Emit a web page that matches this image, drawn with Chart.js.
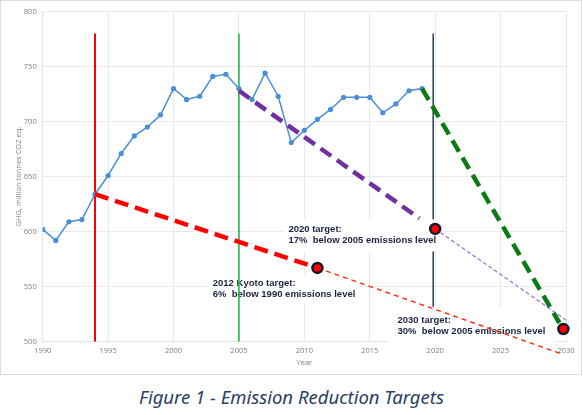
<!DOCTYPE html>
<html>
<head>
<meta charset="utf-8">
<script src="https://cdn.jsdelivr.net/npm/chart.js@4.4.1/dist/chart.umd.min.js"></script>
<style>
  body { margin: 0; background: #fff; width: 583px; height: 415px; overflow: hidden; }
  #frame { position: absolute; left: 0; top: 0; width: 580px; height: 373px; border: 1px solid #dcdcdc; }
  #caption { position: absolute; left: 0; top: 384px; width: 583px; text-align: center;
             font-family: "Noto Sans", sans-serif; font-style: italic; font-size: 18.5px; color: #2a3d62; }
</style>
</head>
<body>
<div id="frame"><canvas id="ghg-chart" width="580" height="373"></canvas></div>
<div id="caption">Figure 1 - Emission Reduction Targets</div>
<script>
// emissions, million tonnes CO2 eq.
var years = [1990, 1991, 1992, 1993, 1994, 1995, 1996, 1997, 1998, 1999,
             2000, 2001, 2002, 2003, 2004, 2005, 2006, 2007, 2008, 2009,
             2010, 2011, 2012, 2013, 2014, 2015, 2016, 2017, 2018, 2019];
var ghg = [602, 592, 609, 611, 634, 651, 671, 687, 695, 706,
           730, 720, 723, 741, 743, 730, 720, 744, 723, 681,
           692, 702, 711, 722, 722, 722, 708, 716, 728, 730];

// target paths
var kyotoYears = [1994, 2011];
var kyotoPath = [634, 567];
var kyotoTrendYears = [2011, 2030.6];
var kyotoTrend = [567, 485];
var target2020Years = [2005, 2018.8];
var target2020Path = [728, 612];
var target2020TrendYears = [2020, 2030.2];
var target2020Trend = [602.5, 518];
var target2030Years = [2019, 2029.5];
var target2030Path = [730, 517];

// target markers
var targetYears = [2011, 2020, 2029.8];
var targetValues = [567, 602.5, 511.5];

// reference years (vertical lines)
var refYears = [1994, 2005, 2019.85];
var refTop = [780, 780, 780];
var refBottom = [500, 500, 530];

var yTicks = [500, 550, 600, 650, 700, 750, 800];
var xTicks = [1990, 1995, 2000, 2005, 2010, 2015, 2020, 2025, 2030];

var NAVY_INDEX = 9;

var notes = [
	{ lines: ['2012 Kyoto target:', '6%  below 1990 emissions level'], x: 2003.0, y: 553, pad: [5, 9, 5, 8], front: false },
	{ lines: ['2020 target:', '17%  below 2005 emissions level'], x: 2008.78, y: 602, pad: [5, 10, 6, 11], front: true },
	{ lines: ['2030 target:', '30%  below 2005 emissions level'], x: 2017.12, y: 519, pad: [10, 14, 9, 12], front: true }
];

function pts(xs, ys) {
	var out = [];
	for (var i = 0; i < xs.length; i++) {
		out.push({ x: xs[i], y: ys[i] });
	}
	return out;
}

function vline(i) {
	return [{ x: refYears[i], y: refTop[i] }, { x: refYears[i], y: refBottom[i] }];
}

var noteFont = 'bold 9.5px "Liberation Sans", Arial, sans-serif';
var lineGap = 11;

function noteBox(ctx, chart, n) {
	var sx = chart.scales.x, sy = chart.scales.y;
	var x = sx.getPixelForValue(n.x), y = sy.getPixelForValue(n.y);
	ctx.font = noteFont;
	var w = 0;
	n.lines.forEach(function(t) { w = Math.max(w, ctx.measureText(t).width); });
	return { x: x, y: y, x0: x - n.pad[0], y0: y - n.pad[1], x1: x + w + n.pad[2], y1: y + lineGap * (n.lines.length - 1) + n.pad[3] };
}

function drawNote(ctx, chart, n, fill) {
	var b = noteBox(ctx, chart, n);
	ctx.save();
	if (fill) {
		ctx.fillStyle = '#ffffff';
		ctx.fillRect(b.x0, b.y0, b.x1 - b.x0, b.y1 - b.y0);
	}
	ctx.fillStyle = '#1a2440';
	ctx.font = noteFont;
	ctx.textBaseline = 'middle';
	n.lines.forEach(function(t, k) { ctx.fillText(t, b.x, b.y + k * lineGap); });
	ctx.restore();
}

var notesPlugin = {
	id: 'notes',
	beforeDatasetsDraw: function(chart) {
		notes.forEach(function(n) {
			if (!n.front) {
				var ctx = chart.ctx, b = noteBox(ctx, chart, n);
				ctx.save();
				ctx.fillStyle = '#ffffff';
				ctx.fillRect(b.x0, b.y0, b.x1 - b.x0, b.y1 - b.y0);
				ctx.restore();
			}
		});
	},
	afterDatasetDraw: function(chart, args) {
		if (args.index !== NAVY_INDEX) return;
		notes.forEach(function(n) { drawNote(chart.ctx, chart, n, n.front); });
	}
};

var ctx = document.getElementById('ghg-chart').getContext('2d');

var chart = new Chart(ctx, {
	type: 'line',
	data: {
		datasets: [{
			// 0 target markers
			data: pts(targetYears, targetValues),
			showLine: false,
			pointRadius: 5,
			pointBorderWidth: 2.5,
			pointBackgroundColor: '#ff0000',
			pointBorderColor: '#111a30',
			clip: 10
		}, {
			// 1 path to 2020 target
			data: pts(target2020Years, target2020Path),
			borderColor: '#7030a0',
			borderWidth: 4.5,
			borderDash: [13, 7],
			pointRadius: 0
		}, {
			// 2 path to 2030 target
			data: pts(target2030Years, target2030Path),
			borderColor: '#0a7a12',
			borderWidth: 4.5,
			borderDash: [13, 7],
			pointRadius: 0
		}, {
			// 3 Kyoto path
			data: pts(kyotoYears, kyotoPath),
			borderColor: '#ff0000',
			borderWidth: 4.5,
			borderDash: [14, 7],
			pointRadius: 0
		}, {
			// 4 historical emissions
			data: pts(years, ghg),
			borderColor: '#4a8fd8',
			borderWidth: 1.5,
			pointRadius: 2.6,
			pointBackgroundColor: '#4a8fd8',
			pointBorderColor: '#4a8fd8',
			pointBorderWidth: 0
		}, {
			// 5 2020 trend
			data: pts(target2020TrendYears, target2020Trend),
			borderColor: '#9b72d6',
			borderWidth: 1.2,
			borderDash: [4, 2.5],
			pointRadius: 0,
			clip: 10
		}, {
			// 6 Kyoto trend
			data: pts(kyotoTrendYears, kyotoTrend),
			borderColor: '#ff2a0a',
			borderWidth: 1.4,
			borderDash: [5, 4],
			pointRadius: 0,
			clip: 12
		}, {
			// 7 2005
			data: vline(1),
			borderColor: '#1fb84a',
			borderWidth: 1.6,
			pointRadius: 0
		}, {
			// 8 1994
			data: vline(0),
			borderColor: '#ff0000',
			borderWidth: 2,
			pointRadius: 0
		}, {
			// 9 2020
			data: vline(2),
			borderColor: '#33475e',
			borderWidth: 1.6,
			pointRadius: 0
		}]
	},
	options: {
		responsive: false,
		animation: false,
		layout: { padding: { top: 7, right: 15, bottom: 0, left: 0 } },
		plugins: {
			legend: { display: false },
			tooltip: { enabled: false }
		},
		scales: {
			x: {
				type: 'linear',
				min: 1990,
				max: 2030,
				afterBuildTicks: function(scale) {
					scale.ticks = xTicks.map(function(v) { return { value: v }; });
				},
				afterFit: function(scale) { scale.height = 32.3; },
				grid: { color: '#e9e9e9', drawTicks: false },
				border: { color: '#e4e4e4' },
				ticks: {
					padding: 5,
					color: '#7f7f7f',
					font: { family: '"Open Sans", sans-serif', size: 7.5 },
					callback: function(v) { return String(v); }
				},
				title: {
					display: true,
					text: 'Year',
					color: '#7f7f7f',
					font: { family: '"Open Sans", sans-serif', size: 7.5 },
					padding: { top: 0, bottom: 7 }
				}
			},
			y: {
				min: 500,
				max: 800,
				afterBuildTicks: function(scale) {
					scale.ticks = yTicks.map(function(v) { return { value: v }; });
				},
				afterFit: function(scale) { scale.width = 41.7; },
				grid: { color: '#e9e9e9', drawTicks: false },
				border: { color: '#e4e4e4' },
				ticks: {
					padding: 6,
					color: '#7f7f7f',
					font: { family: '"Open Sans", sans-serif', size: 7.5 }
				},
				title: {
					display: true,
					text: 'GHG, million tonnes CO2 eq.',
					color: '#7f7f7f',
					font: { family: '"Open Sans", sans-serif', size: 7.5 },
					padding: { top: 13, bottom: 0 }
				}
			}
		}
	},
	plugins: [notesPlugin]
});
</script>
</body>
</html>
